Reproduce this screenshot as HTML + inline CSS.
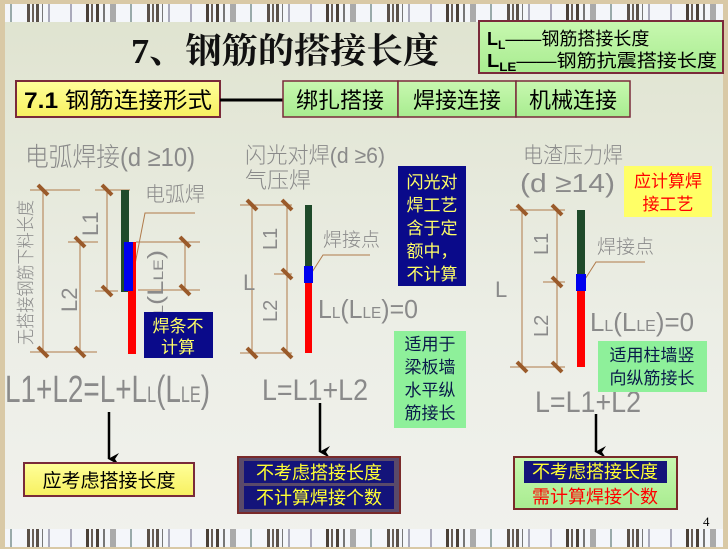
<!DOCTYPE html>
<html><head><meta charset="utf-8"><style>
html,body{margin:0;padding:0;width:728px;height:549px;overflow:hidden;background:#d9c9a6}
svg{display:block}
.g{font-family:"Liberation Sans","Noto Sans CJK SC",sans-serif;fill:#8a8a8a;font-weight:300}
.b{font-family:"Liberation Sans","Noto Sans CJK SC",sans-serif;font-weight:bold}
</style></head><body>
<svg width="728" height="549" viewBox="0 0 728 549" xmlns="http://www.w3.org/2000/svg">
<defs>
<linearGradient id="bg" x1="0" y1="0" x2="0" y2="1"><stop offset="0" stop-color="#dfe3cf"/><stop offset="0.6" stop-color="#eceee6"/><stop offset="1" stop-color="#f1f1ed"/></linearGradient>
<pattern id="bars" width="120" height="20" patternUnits="userSpaceOnUse">
<rect width="120" height="20" fill="#f4f6fa"/>
<rect x="10" width="2" height="20" fill="#9aa"/><rect x="27" width="3" height="20" fill="#5a5048"/><rect x="32" width="2" height="20" fill="#6a6058"/><rect x="36" width="3" height="20" fill="#5a5048"/><rect x="42" width="1" height="20" fill="#777"/><rect x="48" width="2" height="20" fill="#aab"/><rect x="70" width="2" height="20" fill="#aab"/><rect x="86" width="3" height="20" fill="#4a4038"/><rect x="91" width="2" height="20" fill="#6a6058"/><rect x="96" width="3" height="20" fill="#4a4038"/><rect x="103" width="2" height="20" fill="#777"/><rect x="110" width="6" height="20" fill="#aaa"/>
</pattern>
<marker id="ar" markerWidth="12" markerHeight="12" refX="6" refY="10" orient="auto" markerUnits="userSpaceOnUse"><path d="M0,0 L6,11 L12,0 L6,4 Z" fill="#000"/></marker>
<linearGradient id="yel" x1="0" y1="0" x2="0" y2="1"><stop offset="0" stop-color="#ffff9a"/><stop offset="1" stop-color="#f7f060"/></linearGradient>
<linearGradient id="grn" x1="0" y1="0" x2="0" y2="1"><stop offset="0" stop-color="#c8f8b0"/><stop offset="1" stop-color="#a8ec90"/></linearGradient>
</defs>
<rect x="5" y="4" width="718" height="541" fill="url(#bg)"/>
<rect x="5" y="4" width="718" height="18" fill="url(#bars)"/>
<rect x="5" y="529" width="718" height="18" fill="url(#bars)"/>

<text x="131" y="63" font-family="Liberation Serif,Noto Serif CJK SC,serif" font-size="35" font-weight="bold" fill="#111" textLength="308" lengthAdjust="spacingAndGlyphs">7、钢筋的搭接长度</text>

<rect x="479" y="21" width="244" height="52" fill="url(#grn)" stroke="#7a2a3a" stroke-width="2"/>
<text class="b" x="487" y="45" font-size="18" fill="#000">L<tspan font-size="12" dy="4">L</tspan><tspan dy="-4" font-weight="normal">——钢筋搭接长度</tspan></text>
<text class="b" x="487" y="67" font-size="18" fill="#000" textLength="230" lengthAdjust="spacingAndGlyphs">L<tspan font-size="12" dy="4">LE</tspan><tspan dy="-4" font-weight="normal">——钢筋抗震搭接长度</tspan></text>

<rect x="16" y="81" width="204" height="36" fill="url(#yel)" stroke="#7a2a3a" stroke-width="2"/>
<text class="b" x="24" y="108" font-size="22" fill="#000" textLength="188" lengthAdjust="spacingAndGlyphs">7.1 <tspan font-weight="normal">钢筋连接形式</tspan></text>
<line x1="220" y1="100" x2="283" y2="100" stroke="#000" stroke-width="3"/>
<rect x="283" y="81" width="115" height="36" fill="url(#grn)" stroke="#7a2a3a" stroke-width="1.5"/>
<rect x="398" y="81" width="118" height="36" fill="url(#grn)" stroke="#7a2a3a" stroke-width="1.5"/>
<rect x="516" y="81" width="114" height="36" fill="url(#grn)" stroke="#7a2a3a" stroke-width="1.5"/>
<g font-family="Liberation Sans,Noto Sans CJK SC,sans-serif" font-size="22" fill="#000" text-anchor="middle">
<text x="340" y="108">绑扎搭接</text><text x="457" y="108">焊接连接</text><text x="573" y="108">机械连接</text></g>

<!-- left diagram -->
<text class="g" x="25" y="166" font-size="26" textLength="170" lengthAdjust="spacingAndGlyphs">电弧焊接(d ≥10)</text>
<g stroke="#b07a4a" stroke-width="1" fill="none">
<line x1="30" y1="190" x2="80" y2="190"/><line x1="95" y1="190" x2="130" y2="190"/>
<line x1="43" y1="190" x2="43" y2="352"/><line x1="107" y1="190" x2="107" y2="292"/>
<line x1="68" y1="242" x2="98" y2="242"/><line x1="80" y1="242" x2="80" y2="352"/>
<line x1="30" y1="352" x2="97" y2="352"/><line x1="95" y1="291" x2="118" y2="291"/>
<line x1="136" y1="242" x2="200" y2="242"/><line x1="138" y1="290" x2="200" y2="290"/><line x1="185" y1="242" x2="185" y2="290"/>
<polyline points="130,290 145,213 195,213"/>
</g>
<g stroke="#9a5a2a" stroke-width="4">
<line x1="38" y1="185" x2="48" y2="195"/><line x1="102" y1="185" x2="112" y2="195"/><line x1="75" y1="237" x2="85" y2="247"/><line x1="102" y1="286" x2="112" y2="296"/><line x1="38" y1="347" x2="48" y2="357"/><line x1="75" y1="347" x2="85" y2="357"/><line x1="180" y1="237" x2="190" y2="247"/><line x1="180" y1="285" x2="190" y2="295"/>
</g>
<rect x="121" y="190" width="8" height="102" fill="#1f4a2a"/>
<rect x="128" y="242" width="8" height="112" fill="#f00"/>
<rect x="124" y="242" width="9" height="49" fill="#0000ee"/>
<text class="g" x="145" y="201" font-size="20">电弧焊</text>
<text class="g" font-size="22" transform="translate(98,236) rotate(-90)">L1</text>
<text class="g" font-size="22" transform="translate(77,312) rotate(-90)">L2</text>
<text class="g" font-size="18" transform="translate(32,345) rotate(-90)" textLength="145" lengthAdjust="spacingAndGlyphs">无搭接钢筋下料长度</text>
<text class="g" font-size="22" transform="translate(163,330) rotate(-90)" textLength="80" lengthAdjust="spacingAndGlyphs">L<tspan font-size="14">L</tspan>(L<tspan font-size="14">LE</tspan>)</text>
<rect x="144" y="312" width="69" height="46" fill="#0a0a8a"/>
<text x="178" y="332" text-anchor="middle" font-family="Liberation Sans,Noto Sans CJK SC,sans-serif" font-size="17" fill="#ffff66">焊条不</text>
<text x="178" y="353" text-anchor="middle" font-family="Liberation Sans,Noto Sans CJK SC,sans-serif" font-size="17" fill="#ffff66">计算</text>
<text class="g" x="5" y="402" font-size="38" textLength="205" lengthAdjust="spacingAndGlyphs">L1+L2=L+L<tspan font-size="22">L</tspan>(L<tspan font-size="22">LE</tspan>)</text>

<line x1="109" y1="412" x2="109" y2="459" stroke="#000" stroke-width="2.5" marker-end="url(#ar)"/>
<rect x="24" y="463" width="170" height="33" fill="url(#yel)" stroke="#7a2a3a" stroke-width="2"/>
<text x="109" y="487" text-anchor="middle" font-family="Liberation Sans,Noto Sans CJK SC,sans-serif" font-size="19" fill="#000">应考虑搭接长度</text>

<!-- middle -->
<text class="g" x="245" y="163" font-size="22" textLength="140" lengthAdjust="spacingAndGlyphs">闪光对焊(d ≥6)</text>
<text class="g" x="245" y="188" font-size="22">气压焊</text>
<g stroke="#b07a4a" stroke-width="1" fill="none">
<line x1="240" y1="205" x2="292" y2="205"/><line x1="252" y1="205" x2="252" y2="353"/><line x1="287" y1="205" x2="287" y2="353"/>
<line x1="274" y1="274" x2="292" y2="274"/><line x1="240" y1="353" x2="292" y2="353"/>
<polyline points="307,280 323,255 370,255"/>
</g>
<g stroke="#9a5a2a" stroke-width="4">
<line x1="247" y1="200" x2="257" y2="210"/><line x1="282" y1="200" x2="292" y2="210"/><line x1="282" y1="269" x2="292" y2="279"/><line x1="247" y1="348" x2="257" y2="358"/><line x1="282" y1="348" x2="292" y2="358"/>
</g>
<rect x="305" y="205" width="7" height="62" fill="#1f4a2a"/>
<rect x="305" y="282" width="7" height="71" fill="#f00"/>
<rect x="304" y="266" width="9" height="17" fill="#0000ee"/>
<text class="g" x="323" y="246" font-size="19">焊接点</text>
<text class="g" x="243" y="290" font-size="22">L</text>
<text class="g" font-size="20" transform="translate(277,250) rotate(-90)">L1</text>
<text class="g" font-size="20" transform="translate(277,322) rotate(-90)">L2</text>
<text class="g" x="318" y="318" font-size="26" textLength="100" lengthAdjust="spacingAndGlyphs">L<tspan font-size="16">L</tspan>(L<tspan font-size="16">LE</tspan>)=0</text>
<text class="g" x="262" y="400" font-size="30" textLength="106" lengthAdjust="spacingAndGlyphs">L=L1+L2</text>
<rect x="398" y="166" width="68" height="120" fill="#0a0a8a"/>
<g font-family="Liberation Sans,Noto Sans CJK SC,sans-serif" font-size="17" fill="#ffff66" text-anchor="middle">
<text x="432" y="188">闪光对</text><text x="432" y="211">焊工艺</text><text x="432" y="234">含于定</text><text x="432" y="257">额中，</text><text x="432" y="280">不计算</text></g>
<rect x="394" y="331" width="72" height="97" fill="#8ef09a"/>
<g font-family="Liberation Sans,Noto Sans CJK SC,sans-serif" font-size="17" fill="#0a1a4a" text-anchor="middle">
<text x="430" y="350">适用于</text><text x="430" y="373">梁板墙</text><text x="430" y="396">水平纵</text><text x="430" y="419">筋接长</text></g>

<line x1="320" y1="403" x2="320" y2="452" stroke="#000" stroke-width="2.5" marker-end="url(#ar)"/>
<rect x="238" y="457" width="162" height="56" fill="#5a4a6a" stroke="#7a2a2a" stroke-width="2"/>
<rect x="244" y="461" width="150" height="22" fill="#14147a"/>
<rect x="244" y="486" width="150" height="23" fill="#14147a"/>
<g font-family="Liberation Sans,Noto Sans CJK SC,sans-serif" font-size="18" fill="#ffff33" text-anchor="middle">
<text x="319" y="479">不考虑搭接长度</text><text x="319" y="504">不计算焊接个数</text></g>

<!-- right -->
<text class="g" x="523" y="163" font-size="22" textLength="100" lengthAdjust="spacingAndGlyphs">电渣压力焊</text>
<text class="g" x="520" y="192" font-size="26" textLength="95" lengthAdjust="spacingAndGlyphs">(d ≥14)</text>
<g stroke="#b07a4a" stroke-width="1" fill="none">
<line x1="510" y1="210" x2="565" y2="210"/><line x1="522" y1="210" x2="522" y2="367"/><line x1="557" y1="210" x2="557" y2="367"/>
<line x1="543" y1="282" x2="565" y2="282"/><line x1="510" y1="367" x2="565" y2="367"/>
<polyline points="580,287 596,262 645,262"/>
</g>
<g stroke="#9a5a2a" stroke-width="4">
<line x1="517" y1="205" x2="527" y2="215"/><line x1="552" y1="205" x2="562" y2="215"/><line x1="552" y1="277" x2="562" y2="287"/><line x1="517" y1="362" x2="527" y2="372"/><line x1="552" y1="362" x2="562" y2="372"/>
</g>
<rect x="577" y="210" width="8" height="65" fill="#1f4a2a"/>
<rect x="577" y="290" width="8" height="77" fill="#f00"/>
<rect x="576" y="274" width="10" height="17" fill="#0000ee"/>
<text class="g" x="597" y="253" font-size="19">焊接点</text>
<text class="g" x="495" y="297" font-size="22">L</text>
<text class="g" font-size="20" transform="translate(548,255) rotate(-90)">L1</text>
<text class="g" font-size="20" transform="translate(548,337) rotate(-90)">L2</text>
<text class="g" x="590" y="331" font-size="26" textLength="104" lengthAdjust="spacingAndGlyphs">L<tspan font-size="16">L</tspan>(L<tspan font-size="16">LE</tspan>)=0</text>
<text class="g" x="535" y="412" font-size="30" textLength="106" lengthAdjust="spacingAndGlyphs">L=L1+L2</text>
<rect x="624" y="166" width="88" height="51" fill="#ffff66"/>
<g font-family="Liberation Sans,Noto Sans CJK SC,sans-serif" font-size="17" fill="#ff0000" text-anchor="middle">
<text x="668" y="187">应计算焊</text><text x="668" y="210">接工艺</text></g>
<rect x="598" y="341" width="109" height="51" fill="#8ef09a"/>
<g font-family="Liberation Sans,Noto Sans CJK SC,sans-serif" font-size="17" fill="#0a1a4a" text-anchor="middle">
<text x="652" y="361">适用柱墙竖</text><text x="652" y="384">向纵筋接长</text></g>

<line x1="596" y1="414" x2="596" y2="452" stroke="#000" stroke-width="2.5" marker-end="url(#ar)"/>
<rect x="514" y="457" width="163" height="52" fill="url(#grn)" stroke="#7a2a2a" stroke-width="2"/>
<rect x="524" y="461" width="143" height="22" fill="#14147a"/>
<g font-family="Liberation Sans,Noto Sans CJK SC,sans-serif" font-size="18" text-anchor="middle">
<text x="595" y="478" fill="#ffff33">不考虑搭接长度</text><text x="595" y="503" fill="#ff0000">需计算焊接个数</text></g>

<text x="703" y="526" font-family="Liberation Serif,serif" font-size="13" fill="#000">4</text>
</svg>
</body></html>
